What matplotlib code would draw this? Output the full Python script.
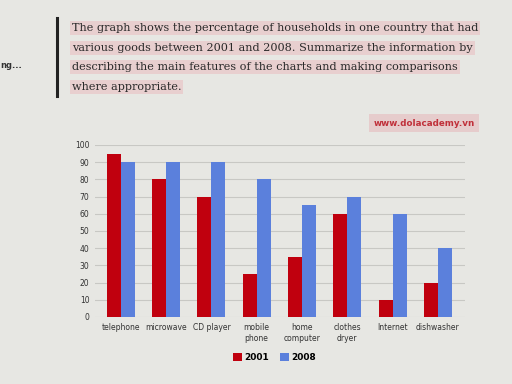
import numpy as np
import matplotlib.pyplot as plt

categories = ['telephone', 'microwave', 'CD player', 'mobile\nphone',
              'home\ncomputer', 'clothes\ndryer', 'Internet', 'dishwasher']
values_2001 = [95, 80, 70, 25, 35, 60, 10, 20]
values_2008 = [90, 90, 90, 80, 65, 70, 60, 40]
y_ticks = [0, 10, 20, 30, 40, 50, 60, 70, 80, 90, 100]

prompt_lines = [
    'The graph shows the percentage of households in one country that had',
    'various goods between 2001 and 2008. Summarize the information by',
    'describing the main features of the charts and making comparisons',
    'where appropriate.',
]

bg = '#e7e7e3'
red = '#c0000e'
blue = '#5b80dc'

fig = plt.figure(figsize=(5.12, 3.84), dpi=100, facecolor=bg)

# prompt text at the top of the page
for i, line in enumerate(prompt_lines):
    fig.text(72 / 512, 1 - (28 + i * 19.7) / 384, line, family='DejaVu Serif',
             fontsize=8.15, color='#2a2a2a', va='center', ha='left',
             bbox=dict(facecolor='#e8cfcf', edgecolor='none', pad=1.4))
fig.text(0.0, 1 - 66 / 384, 'ng...', fontsize=6, fontweight='bold',
         color='#333333', va='center')
fig.add_artist(plt.Line2D([57 / 512, 57 / 512], [1 - 18 / 384, 1 - 96 / 384],
                          color='#222222', lw=2.2))

# watermark
fig.text(424 / 512, 1 - 123 / 384, 'www.dolacademy.vn', fontsize=6.3,
         fontweight='bold', color='#c0303a', ha='center', va='center',
         bbox=dict(facecolor='#e6cccc', edgecolor='none', pad=3))

ax = fig.add_axes([95 / 512, 1 - 317 / 384, 370 / 512, 172 / 384])
ax.set_facecolor(bg)

x = np.arange(len(categories))
w = 0.31
ax.bar(x - w / 2, values_2001, w, color=red, label='2001', zorder=3)
ax.bar(x + w / 2, values_2008, w, color=blue, label='2008', zorder=3)

ax.set_xlim(-0.57, 7.6)
ax.set_ylim(0, 100)
ax.set_yticks(y_ticks)
ax.set_xticks(x)
ax.set_xticklabels(categories, fontsize=5.5, color='#333333', linespacing=1.3)
ax.tick_params(axis='y', labelsize=5.5, labelcolor='#333333', length=0, pad=4)
ax.tick_params(axis='x', length=0, pad=4)
ax.grid(axis='y', color='#c8c8c4', lw=0.8, zorder=0)
for s in ax.spines.values():
    s.set_visible(False)

ax.legend(loc='upper center', bbox_to_anchor=(0.485, -0.16), ncol=2, frameon=False,
          prop={'size': 6.5, 'weight': 'bold'}, handlelength=1.0,
          handleheight=1.0, columnspacing=1.2, handletextpad=0.3)

fig.savefig('out.png', dpi=100, facecolor=bg)
